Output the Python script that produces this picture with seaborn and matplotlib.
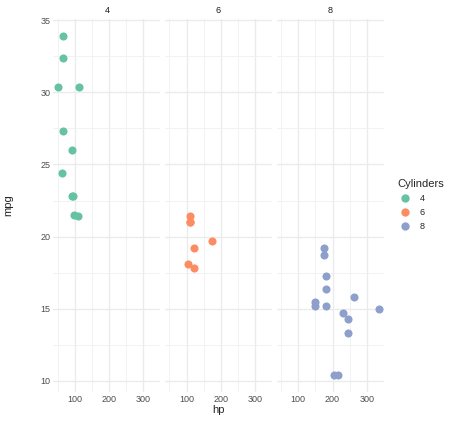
import numpy as np
import pandas as pd
import seaborn as sns
import matplotlib.pyplot as plt
from matplotlib.lines import Line2D
from matplotlib.ticker import MultipleLocator

# mtcars: horsepower, miles per gallon, cylinders
hp = [110, 110, 93, 110, 175, 105, 245, 62, 95, 123, 123, 180, 180, 180, 205, 215,
      230, 66, 52, 65, 97, 150, 150, 245, 175, 66, 91, 113, 264, 175, 335, 109]
mpg = [21.0, 21.0, 22.8, 21.4, 18.7, 18.1, 14.3, 24.4, 22.8, 19.2, 17.8, 16.4, 17.3,
       15.2, 10.4, 10.4, 14.7, 32.4, 30.4, 33.9, 21.5, 15.5, 15.2, 13.3, 19.2, 27.3,
       26.0, 30.4, 15.8, 19.7, 15.0, 21.4]
cyl = [6, 6, 4, 6, 8, 6, 8, 4, 4, 6, 6, 8, 8, 8, 8, 8,
       8, 4, 4, 4, 4, 8, 8, 8, 8, 4, 4, 4, 8, 6, 8, 4]
cyl_levels = [4, 6, 8]
colors = ["#66C2A5", "#FC8D62", "#8DA0CB"]

df = pd.DataFrame({"hp": hp, "mpg": mpg, "cyl": cyl})

sns.set_style("white")
plt.rcParams["font.family"] = ["Liberation Sans", "DejaVu Sans"]

fig, axes = plt.subplots(1, 3, figsize=(4.69, 4.23), dpi=100, sharex=True, sharey=True)
fig.subplots_adjust(left=0.114, right=0.818, top=0.955, bottom=0.073, wspace=0.047)

xmin, xmax = min(hp), max(hp)
ymin, ymax = min(mpg), max(mpg)
xpad = (xmax - xmin) * 0.05
ypad = (ymax - ymin) * 0.05

for ax, lev, col in zip(axes, cyl_levels, colors):
    sub = df[df["cyl"] == lev]
    sns.scatterplot(data=sub, x="hp", y="mpg", color=col, s=34, linewidth=0,
                    ax=ax, legend=False, zorder=3)
    ax.set_xlim(xmin - xpad, xmax + xpad)
    ax.set_ylim(ymin - ypad, ymax + ypad)
    ax.xaxis.set_major_locator(MultipleLocator(100))
    ax.xaxis.set_minor_locator(MultipleLocator(50))
    ax.yaxis.set_major_locator(MultipleLocator(5))
    ax.yaxis.set_minor_locator(MultipleLocator(2.5))
    ax.grid(which="major", color="#EBEBEB", linewidth=1.0)
    ax.grid(which="minor", color="#F0F0F0", linewidth=0.6)
    ax.set_axisbelow(True)
    for sp in ax.spines.values():
        sp.set_visible(False)
    ax.tick_params(which="both", length=0, labelsize=6.5, labelcolor="#4D4D4D", pad=2)
    ax.set_xlabel("")
    ax.set_ylabel("")
    ax.set_title(str(lev), fontsize=6.5, color="#1A1A1A", pad=4)

fig.text((0.114 + 0.818) / 2, 0.018, "hp", ha="center", va="bottom", fontsize=8)
fig.text(0.008, (0.955 + 0.073) / 2, "mpg", ha="left", va="center", rotation=90, fontsize=8)

handles = [Line2D([], [], marker="o", linestyle="", markersize=6,
                  markerfacecolor=c, markeredgewidth=0) for c in colors]
leg = fig.legend(handles, [str(l) for l in cyl_levels], title="Cylinders",
                 loc="center left", bbox_to_anchor=(0.831, 0.515), frameon=False,
                 fontsize=6.5, title_fontsize=8, handletextpad=0.8,
                 labelspacing=0.55, handlelength=1.6)
leg._legend_box.align = "left"

fig.savefig("out.png", dpi=100)
